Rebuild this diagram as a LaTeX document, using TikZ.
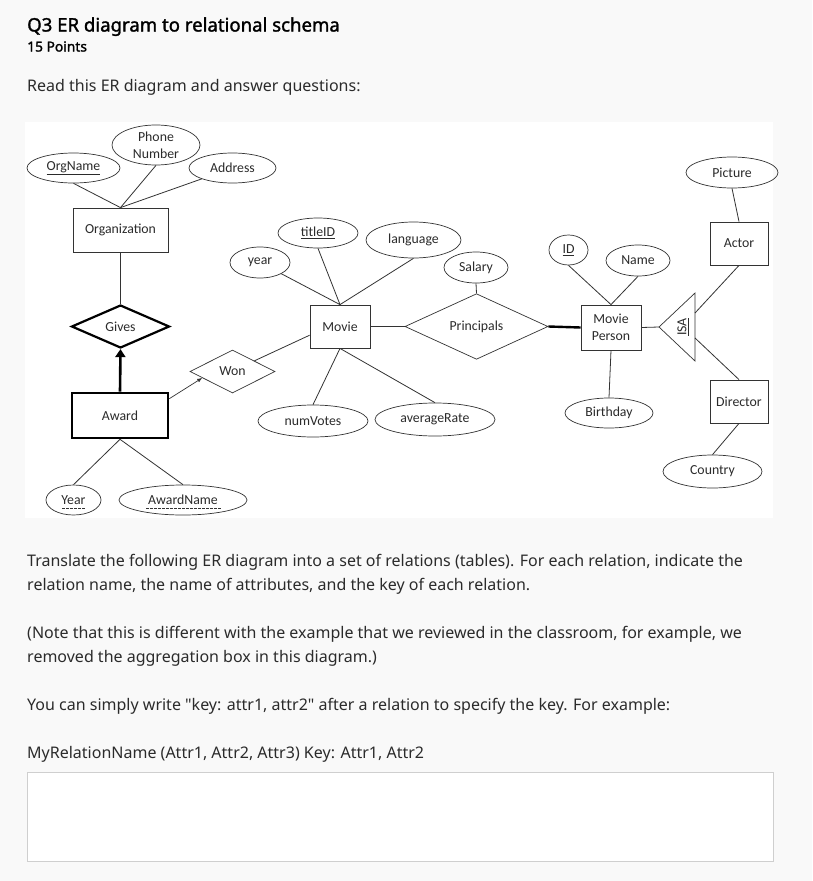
\documentclass[tikz,border=0pt]{standalone}
\usepackage{fontspec}
\setmainfont{Noto Sans}
\newfontfamily\headfont{Noto Sans}[FakeBold=1.6]
\newfontfamily\plainfont{Noto Sans}
\newfontfamily\erfont{Carlito}
\usetikzlibrary{shapes.geometric, arrows.meta}

\definecolor{pagebg}{HTML}{F9F9F9}
\definecolor{inktext}{HTML}{2B2B2B}
\definecolor{erline}{HTML}{333333}
\definecolor{boxline}{HTML}{CFCFCF}

\newcommand{\straightq}{{\plainfont"}}

\tikzset{
  ertext/.style={font=\erfont\fontsize{13.8}{14}\selectfont, text=inktext, align=center},
  entity/.style={draw=erline, rectangle, inner sep=0pt, line width=0.8pt, ertext},
  attr/.style={draw=erline, ellipse, inner sep=0pt, line width=0.7pt, ertext},
  rel/.style={draw=erline, diamond, inner sep=0pt, line width=0.7pt, ertext},
  weak/.style={draw=black, line width=2.6pt},
  link/.style={draw=erline, line width=0.8pt},
  partkey/.style={draw=erline, line width=0.7pt, dash pattern=on 2.5pt off 1.5pt},
  para/.style={anchor=base west, inner sep=0pt, text=inktext, font=\fontsize{16}{20}\selectfont},
}

\begin{document}
\begin{tikzpicture}[x=1pt, y=-1pt]
\useasboundingbox (0,0) rectangle (812,881);
\fill[pagebg] (0,0) rectangle (812,881);
\fill[white] (25,122) rectangle (773,518);

% header text
\node[para, font=\headfont\fontsize{18.6}{20}\selectfont, text=black] (title) at (27,31.5) {Q3 ER diagram to relational schema};
\node[para, font=\headfont\fontsize{13.8}{15}\selectfont, text=black] (points) at (27,51.5) {15 Points};
\node[para] (intro) at (27,91.5) {Read this ER diagram and answer questions:};

% entities
\node[entity, minimum width=95pt, minimum height=44pt] (org) at (120.5,230) {Organization};
\node[entity, minimum width=60pt, minimum height=43pt] (movie) at (340,326.5) {Movie};
\node[entity, minimum width=60pt, minimum height=45pt] (mperson) at (611,327.5) {Movie\\[3pt]Person};
\node[entity, minimum width=58pt, minimum height=43pt] (actor) at (739,243.5) {Actor};
\node[entity, minimum width=58pt, minimum height=43pt] (director) at (739,401.5) {Director};
\node[entity, weak, minimum width=96pt, minimum height=45pt] (award) at (120,415.5) {Award};

% relationships
\node[rel, weak, line width=2.2pt, minimum width=98pt, minimum height=43pt] (gives) at (120.5,326.5) {Gives};
\node[rel, minimum width=85pt, minimum height=43pt] (won) at (232.5,371.5) {Won};
\node[rel, minimum width=143pt, minimum height=43pt] (principals) at (476.5,326.5) {Principals};

% attributes
\node[attr, minimum width=93pt, minimum height=30pt] (orgname) at (73.5,168) {\underline{OrgName}};
\node[attr, minimum width=88pt, minimum height=40pt] (phone) at (156,145) {Phone\\[3pt]Number};
\node[attr, minimum width=87pt, minimum height=30pt] (address) at (232.5,168) {Address};
\node[attr, minimum width=60pt, minimum height=31pt] (myear) at (260,262.5) {year};
\node[attr, minimum width=80pt, minimum height=30pt] (titleid) at (318,233) {\underline{titleID}};
\node[attr, minimum width=95pt, minimum height=36pt] (language) at (413.5,240) {language};
\node[attr, minimum width=64pt, minimum height=31pt] (salary) at (476,267.5) {Salary};
\node[attr, minimum width=110pt, minimum height=32pt] (numvotes) at (313,421) {numVotes};
\node[attr, minimum width=120pt, minimum height=33pt] (avgrate) at (435,419.5) {averageRate};
\node[attr, minimum width=39pt, minimum height=30pt] (pid) at (568.5,250) {\underline{ID}};
\node[attr, minimum width=64pt, minimum height=31pt] (pname) at (638,260.5) {Name};
\node[attr, minimum width=92pt, minimum height=31pt] (picture) at (732,172.5) {Picture};
\node[attr, minimum width=88pt, minimum height=30pt] (birthday) at (609,413) {Birthday};
\node[attr, minimum width=99pt, minimum height=33pt] (country) at (712.5,471.5) {Country};
\node[attr, minimum width=55pt, minimum height=30pt] (ayear) at (73.5,500) {Year};
\node[attr, minimum width=128pt, minimum height=30pt] (awardname) at (183,500) {AwardName};
% partial key underlines
\draw[partkey] ([xshift=-11.5pt, yshift=-8pt]ayear.center) -- ([xshift=11.5pt, yshift=-8pt]ayear.center);
\draw[partkey] ([xshift=-37pt, yshift=-8pt]awardname.center) -- ([xshift=38pt, yshift=-8pt]awardname.center);

% ISA triangle
\coordinate (isa) at (659,327);
\coordinate (isaup) at (695,313);
\coordinate (isalow) at (695,338);
\draw[erline, line width=0.7pt] (isa) -- (695,293) -- (695,361) -- cycle;
\node[ertext, rotate=90] (isatext) at (683,327) {\underline{ISA}};

% connectors
\draw[link] (orgname.south) -- (org.north);
\draw[link] (phone.south) -- (org.north);
\draw[link] (address) -- (org.north);
\draw[link] (org.south) -- (gives.north);
\draw[weak, -{Triangle[length=8pt, width=10pt]}] (award.north) -- (gives.south);
\draw[link, line width=0.7pt, -{Latex[length=5pt, width=4pt]}] ([yshift=-7pt]award.north east) -- (won.192);
\draw[link] (award.south) -- (ayear.north);
\draw[link] (award.south) -- (awardname.north);
\draw[link] (won.26) -- (movie.196);
\draw[link] (myear) -- (movie.north);
\draw[link] (titleid.south) -- (movie.north);
\draw[link] (language.south) -- (movie.north);
\draw[link] (movie.south) -- (numvotes.north);
\draw[link] (movie.south) -- (avgrate.north);
\draw[link] (movie.east) -- (principals.west);
\draw[link] (salary.south) -- (principals.north);
\draw[draw=black, line width=2.4pt] (principals.east) -- (mperson.west);
\draw[link] (pid.south) -- (mperson.north);
\draw[link] (pname.south) -- (mperson.north);
\draw[link] (mperson.south) -- (birthday.north);
\draw[link] (mperson.east) -- (isa);
\draw[link] (picture.south) -- (actor.north);
\draw[link] (actor.south) -- (isaup);
\draw[link] (isalow) -- (director.north);
\draw[link] (director.south) -- (country.north);

% question text
\node[para] (line1) at (27,566) {Translate the following ER diagram into a set of relations (tables). For each relation, indicate the};
\node[para] (line2) at (27,590) {relation name, the name of attributes, and the key of each relation.};
\node[para] (line3) at (27,638) {(Note that this is different with the example that we reviewed in the classroom, for example, we};
\node[para] (line4) at (27,662) {removed the aggregation box in this diagram.)};
\node[para] (line5) at (27,710) {You can simply write \straightq key: attr1, attr2\straightq{} after a relation to specify the key. For example:};
\node[para] (line6) at (27,758) {MyRelationName (Attr1, Attr2, Attr3) Key: Attr1, Attr2};

% answer box
\draw[boxline, fill=white, line width=0.8pt] (27,772.5) rectangle (773,861.5);
\end{tikzpicture}
\end{document}
